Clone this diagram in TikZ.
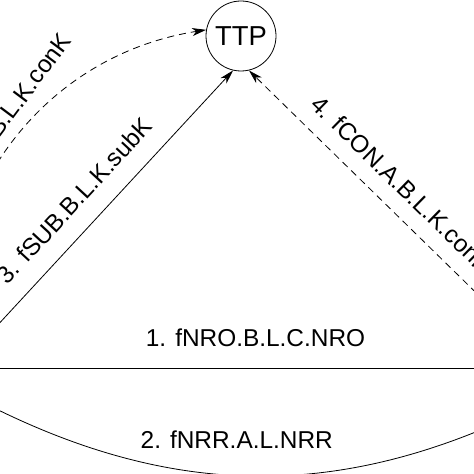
\documentclass[tikz,border=0pt]{standalone}
\usepackage{fontspec}
\setmainfont{Liberation Sans}
\usetikzlibrary{arrows.meta}

\begin{document}
\begin{tikzpicture}[x=1bp,y=1bp]

\tikzset{party/.style = {shape=circle,draw,line width=0.8bp,minimum size=70bp,inner sep=0pt,font=\fontsize{27.5}{33}\selectfont}}
\tikzset{msg/.style = {->,>={Stealth[length=14bp,width=8bp,inset=4bp]},line width=0.8bp}}
\tikzset{conmsg/.style = {msg,dash pattern=on 7bp off 5bp}}
\tikzset{lbl/.style = {font=\fontsize{24.5}{29}\selectfont,inner sep=2bp}}
\path[use as bounding box,clip] (0,0) rectangle (474,474);
% vertices
\node[party] (TTP) at (241,438) {TTP};
\node[party] (A) at (-42,106) {};
\node[party] (B) at (553,106) {};
%edges
\draw[msg] (A) -- node[lbl,above=19bp] {1. fNRO.B.L.C.NRO} (B);
\draw[msg] (B.252) to[out=207,in=-27] node[lbl,above=24bp,pos=0.54] {2. fNRR.A.L.NRR} (A.300);
\draw[msg] (A) -- node[lbl,sloped,above=17bp,pos=0.45] {3. fSUB.B.L.K.subK} (TTP.257);
\draw[conmsg] (B) -- node[lbl,sloped,above=14bp,pos=0.515] {4. fCON.A.B.L.K.conK} (TTP.283);
\draw[conmsg] (A.104) to[out=90,in=189] node[lbl,sloped,above=10bp,pos=0.46] {5. fCON.A.B.L.K.conK} (TTP.170);
\end{tikzpicture}
\end{document}
